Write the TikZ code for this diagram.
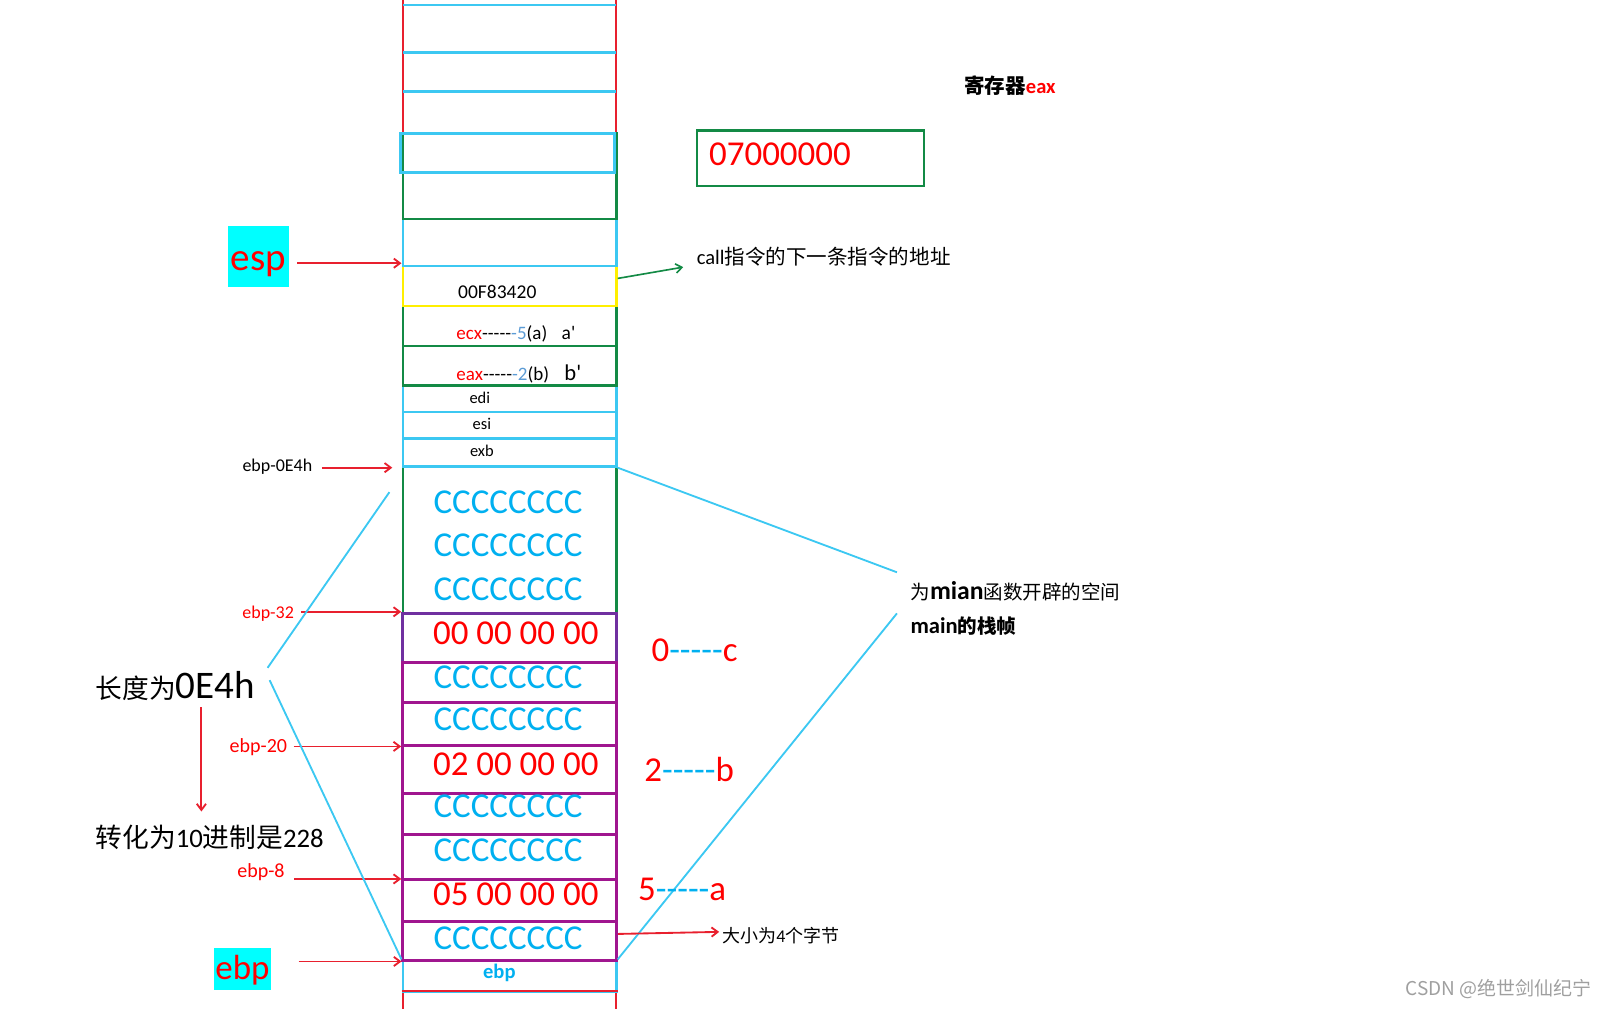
\documentclass[tikz,border=0pt]{standalone}
\usepackage{fontspec}
\setmainfont{Carlito}
\newfontfamily\cjk{Noto Sans CJK SC}
\usetikzlibrary{arrows.meta, positioning}

\definecolor{skyline}{HTML}{3CC8F2}
\definecolor{skytext}{HTML}{00B0F0}
\definecolor{boxgreen}{HTML}{138A45}
\definecolor{slotyellow}{HTML}{FFEF00}
\definecolor{framepurple}{HTML}{7030A0}
\definecolor{framemagenta}{HTML}{A0168F}
\definecolor{arrowred}{HTML}{E8202E}
\definecolor{markcyan}{HTML}{00FFFF}
\definecolor{numblue}{HTML}{5B9BD5}
\newcommand{\fsz}[1]{\fontsize{#1pt}{#1pt}\selectfont}

\begin{document}
\begin{tikzpicture}[x=1pt,y=-1pt,>={Straight Barb[length=6pt,width=9pt]},
    every node/.style={inner sep=0pt,font=\fsz{16}},
    cell/.style={draw,rectangle,minimum width=208pt,line width=2.4pt},
    magcell/.style={cell,draw=framemagenta,line width=3pt},
    cc/.style={text=skytext,font=\fsz{34}},
    hex/.style={text=red,font=\fsz{34}},
    ptr/.style={->,draw=arrowred,line width=1.8pt},
    guide/.style={draw=skyline,line width=1.8pt},
    tag/.style={text=red,font=\fsz{19.5}}]

  \useasboundingbox (0,0) rectangle (1568,982);

  % stack column
  \draw[arrowred,line width=2pt] (392,0) -- (392,982) (600,0) -- (600,982);
  \node[cell,draw=boxgreen,minimum height=143pt] (locals) at (496,525.5) {};
  \node[cell,draw=skyline,minimum height=26pt] (edi) at (496,388) {};
  \node[cell,draw=skyline,minimum height=26pt] (esi) at (496,414) {};
  \node[cell,draw=skyline,minimum height=27pt] (exb) at (496,440.5) {};
  \node[cell,draw=boxgreen,minimum height=39pt] (ecx) at (496,317.5) {};
  \node[cell,draw=boxgreen,minimum height=38pt] (eax) at (496,356) {};
  \node[cell,draw=slotyellow,minimum height=39pt] (ret) at (496,278.5) {};
  \node[cell,draw=skyline,minimum height=46pt] (espslot) at (496,236) {};
  \node[cell,draw=boxgreen,minimum height=83pt] (caller) at (496,171.5) {};
  \foreach \y in {5,51,89,168}
    \draw[skyline,line width=2.4pt] (392,\y) -- (600,\y);
  \node[cell,draw=skyline,minimum height=38pt] (slot) at (494,149) {};
  \node[cell,draw=skyline,minimum height=30pt] (ebpslot) at (496,950) {};
  \node[magcell,draw=framepurple,minimum height=48pt] (var0) at (496,621) {};
  \node[magcell,minimum height=39pt] (pad1) at (496,664.5) {};
  \node[magcell,minimum height=42pt] (pad2) at (496,705) {};
  \node[magcell,minimum height=46pt] (var2) at (496,749) {};
  \node[magcell,minimum height=40pt] (pad3) at (496,792) {};
  \node[magcell,minimum height=44pt] (pad4) at (496,834) {};
  \node[magcell,minimum height=41pt] (var5) at (496,876.5) {};
  \node[magcell,minimum height=38pt] (pad5) at (496,916) {};
  \draw[arrowred,line width=1.5pt] ([yshift=1.5pt]ebpslot.south west) -- ([yshift=1.5pt]ebpslot.south east);

  \node (retval) at (484,284) {\fsz{19}00F83420};
  \node[anchor=west,font=\fsz{18.5}] (ecxval) at (444,325) {{\color{red}ecx}-{}-{}-{}-{}-{}{\color{numblue}-5}(a)\hspace{14pt}{\fsz{19}a\textquotesingle}};
  \node[anchor=west,font=\fsz{18.5}] (eaxval) at (444,364) {{\color{red}eax}-{}-{}-{}-{}-{}{\color{numblue}-2}(b)\hspace{15pt}{\fsz{22}b\textquotesingle}};
  \node (editxt) at (467,387) {edi};
  \node (esitxt) at (469,413) {esi};
  \node (exbtxt) at (469,439) {exb};
  \node[cc] (cc1) at (494.5,489) {CCCCCCCC};
  \node[cc] (cc2) at (494.5,531) {CCCCCCCC};
  \node[cc] (cc3) at (494.5,574) {CCCCCCCC};
  \node[hex] (val0) at (502,616) {00 00 00 00};
  \node[cc] (cc4) at (494.5,659) {CCCCCCCC};
  \node[cc] (cc5) at (494.5,700) {CCCCCCCC};
  \node[hex] (val2) at (502,744) {02 00 00 00};
  \node[cc] (cc6) at (494.5,785) {CCCCCCCC};
  \node[cc] (cc7) at (494.5,828) {CCCCCCCC};
  \node[hex] (val5) at (502,870) {05 00 00 00};
  \node[cc] (cc8) at (494.5,913) {CCCCCCCC};
  \node[text=skytext,font=\fsz{20}\bfseries] (ebptxt) at (486,947) {ebp};

  % pointers on the left
  \node[fill=markcyan,text=red,minimum width=59pt,minimum height=59pt,text height=28pt,text depth=0pt,font=\fsz{38}] (esp) at (251.5,249.5) {esp};
  \node[fill=markcyan,text=red,minimum width=55pt,minimum height=41pt,text height=20pt,text depth=0pt,font=\fsz{34}] (ebp) at (236,943) {ebp};
  \node (lbl0) at (270,454) {\fsz{17.5}ebp-0E4h};
  \node[text=red] (lbl32) at (261,597) {\fsz{17.5}ebp-32};
  \node[tag] (lbl20) at (251.5,727) {ebp-20};
  \node[tag] (lbl8) at (254,849) {ebp-8};

  \coordinate (esptip) at ([yshift=4pt]espslot.south west);
  \coordinate (tip0) at ([xshift=-9pt]exb.south west);
  \coordinate (tip20) at ([yshift=-2pt]var2.north west);
  \coordinate (tip8) at ([yshift=-1pt]var5.north west);
  \coordinate (ebptip) at ([yshift=-2pt]ebpslot.north west);
  \draw[ptr,shorten <=8pt] (esptip -| esp.east) -- (esptip);
  \draw[ptr,shorten <=9pt] (tip0 -| lbl0.east) -- (tip0);
  \draw[ptr,shorten <=7pt] (var0.north west -| lbl32.east) -- (var0.north west);
  \draw[ptr,shorten <=6pt] (tip20 -| lbl20.east) -- (tip20);
  \draw[ptr,shorten <=9pt] (tip8 -| lbl8.east) -- (tip8);
  \draw[ptr,shorten <=27pt] (ebptip -| ebp.east) -- (ebptip);

  \node[anchor=west] (len) at (93,668) {{\cjk\fsz{26}长度为}{\fsz{38}0E4h}};
  \node[anchor=west,font=\fsz{26}] (conv) at (93,815) {{\cjk 转化为}10{\cjk 进制是}228};
  \draw[ptr] ([xshift=103pt,yshift=-6pt]len.south west) -- ([xshift=103pt,yshift=13pt]conv.north west);
  \coordinate (guidetop) at (379,479);
  \draw[guide] ([xshift=12pt,yshift=18pt]len.east) -- (guidetop);
  \draw[guide] ([xshift=14pt,yshift=6pt]len.east) -- (ebpslot.north west);

  % right side
  \node[font=\fsz{20}\bfseries] (regname) at (983,83) {{\cjk 寄存器}{\color{red}eax}};
  \node[draw=boxgreen,line width=2pt,minimum width=221pt,minimum height=54pt] (regbox) at (788.5,154) {};
  \node[anchor=west,hex] (regval) at ([xshift=13pt,yshift=4pt]regbox.west) {07000000};
  \node[anchor=west,font=\fsz{20}] (calltxt) at (678,250) {call{\cjk 指令的下一条指令的地址}};
  \draw[->,draw=boxgreen,line width=1.6pt] ([yshift=7.5pt]ret.east) -- ([xshift=-13pt,yshift=-10pt]calltxt.west);

  \node[anchor=west,font=\fsz{19}] (mian) at (886,576) {{\cjk 为}{\fsz{25}\bfseries mian}{\cjk 函数开辟的空间}};
  \node[anchor=west,font=\fsz{19}\bfseries] (mainfr) at (886,609) {{\fsz{22}main}{\cjk 的栈帧}};
  \draw[guide] (exb.south east) -- ([xshift=-13pt,yshift=19pt]mian.west);
  \draw[guide] ([xshift=-13pt,yshift=12pt]mainfr.west) -- (ebpslot.north east);

  \node[anchor=west,hex] (cmark) at (634,633) {0{\color{skytext}-{}-{}-{}-{}-}c};
  \node[anchor=west,hex] (bmark) at (627,749) {2{\color{skytext}-{}-{}-{}-{}-}b};
  \node[anchor=west,hex] (amark) at (621,866) {5{\color{skytext}-{}-{}-{}-{}-}a};

  \node[anchor=west,font=\fsz{17.5}] (sizetxt) at (703,911) {{\cjk 大小为}4{\cjk 个字节}};
  \draw[ptr] ([yshift=7pt]pad5.east) -- ([xshift=-3pt,yshift=4pt]sizetxt.west);

  \node[anchor=west,text=gray!75,font=\cjk\fsz{18.5}] (mark) at (1368,963) {CSDN @绝世剑仙纪宁};
\end{tikzpicture}
\end{document}
